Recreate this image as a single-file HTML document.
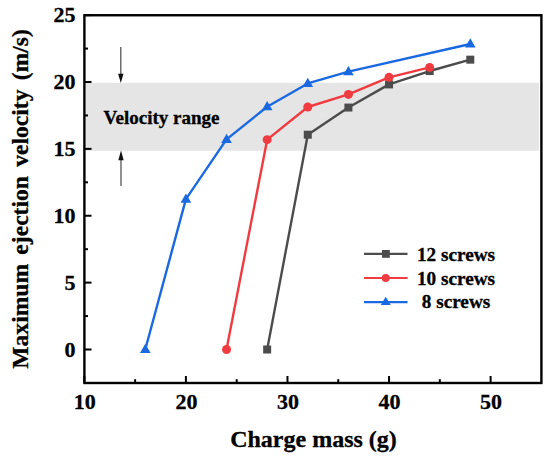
<!DOCTYPE html>
<html><head><meta charset="utf-8"><style>
html,body{margin:0;padding:0;background:#fff;}
svg{display:block;}
text{font-family:"Liberation Serif",serif;font-weight:bold;fill:#000;stroke:#000;stroke-width:0.3px;}
</style></head><body>
<svg width="550" height="459" viewBox="0 0 550 459">
<rect x="86" y="82.8" width="453" height="68" fill="#e5e5e5"/>
<line x1="120.8" y1="47" x2="120.8" y2="75" stroke="#555" stroke-width="1.3"/>
<polygon points="118.1,73.8 123.5,73.8 120.8,83" fill="#111"/>
<line x1="121" y1="159" x2="121" y2="186" stroke="#555" stroke-width="1.3"/>
<polygon points="118.3,160.2 123.7,160.2 121,150.6" fill="#111"/>
<text x="103.5" y="123.5" font-size="19" textLength="116" lengthAdjust="spacingAndGlyphs">Velocity range</text>
<line x1="84.33" y1="383" x2="84.33" y2="376" stroke="#000" stroke-width="2"/>
<text transform="translate(84.83,409) scale(1,1.0)" font-size="22" text-anchor="middle">10</text>
<line x1="185.90" y1="383" x2="185.90" y2="376" stroke="#000" stroke-width="2"/>
<text transform="translate(186.40,409) scale(1,1.0)" font-size="22" text-anchor="middle">20</text>
<line x1="287.47" y1="383" x2="287.47" y2="376" stroke="#000" stroke-width="2"/>
<text transform="translate(287.97,409) scale(1,1.0)" font-size="22" text-anchor="middle">30</text>
<line x1="389.04" y1="383" x2="389.04" y2="376" stroke="#000" stroke-width="2"/>
<text transform="translate(389.54,409) scale(1,1.0)" font-size="22" text-anchor="middle">40</text>
<line x1="490.61" y1="383" x2="490.61" y2="376" stroke="#000" stroke-width="2"/>
<text transform="translate(491.11,409) scale(1,1.0)" font-size="22" text-anchor="middle">50</text>
<line x1="135.12" y1="383" x2="135.12" y2="379.2" stroke="#000" stroke-width="2"/>
<line x1="236.69" y1="383" x2="236.69" y2="379.2" stroke="#000" stroke-width="2"/>
<line x1="338.25" y1="383" x2="338.25" y2="379.2" stroke="#000" stroke-width="2"/>
<line x1="439.82" y1="383" x2="439.82" y2="379.2" stroke="#000" stroke-width="2"/>
<line x1="84.5" y1="349.50" x2="91.5" y2="349.50" stroke="#000" stroke-width="2"/>
<text transform="translate(75.6,356.60) scale(1,1.0)" font-size="22" text-anchor="end">0</text>
<line x1="84.5" y1="282.62" x2="91.5" y2="282.62" stroke="#000" stroke-width="2"/>
<text transform="translate(75.6,289.73) scale(1,1.0)" font-size="22" text-anchor="end">5</text>
<line x1="84.5" y1="215.75" x2="91.5" y2="215.75" stroke="#000" stroke-width="2"/>
<text transform="translate(75.6,222.85) scale(1,1.0)" font-size="22" text-anchor="end">10</text>
<line x1="84.5" y1="148.88" x2="91.5" y2="148.88" stroke="#000" stroke-width="2"/>
<text transform="translate(75.6,155.97) scale(1,1.0)" font-size="22" text-anchor="end">15</text>
<line x1="84.5" y1="82.00" x2="91.5" y2="82.00" stroke="#000" stroke-width="2"/>
<text transform="translate(75.6,89.10) scale(1,1.0)" font-size="22" text-anchor="end">20</text>
<line x1="84.5" y1="15.12" x2="91.5" y2="15.12" stroke="#000" stroke-width="2"/>
<text transform="translate(75.6,22.23) scale(1,1.0)" font-size="22" text-anchor="end">25</text>
<line x1="84.5" y1="316.06" x2="88" y2="316.06" stroke="#000" stroke-width="2"/>
<line x1="84.5" y1="249.19" x2="88" y2="249.19" stroke="#000" stroke-width="2"/>
<line x1="84.5" y1="182.31" x2="88" y2="182.31" stroke="#000" stroke-width="2"/>
<line x1="84.5" y1="115.44" x2="88" y2="115.44" stroke="#000" stroke-width="2"/>
<line x1="84.5" y1="48.56" x2="88" y2="48.56" stroke="#000" stroke-width="2"/>
<rect x="84.4" y="15.25" width="457" height="367.75" fill="none" stroke="#000" stroke-width="2.4"/>
<polyline points="267.16,349.50 307.78,134.70 348.41,107.55 389.04,84.41 429.67,71.03 470.30,59.66" fill="none" stroke="#4c4c4c" stroke-width="2.4" stroke-linejoin="round"/>
<rect x="263.16" y="345.50" width="8" height="8" fill="#4c4c4c"/>
<rect x="303.78" y="130.70" width="8" height="8" fill="#4c4c4c"/>
<rect x="344.41" y="103.55" width="8" height="8" fill="#4c4c4c"/>
<rect x="385.04" y="80.41" width="8" height="8" fill="#4c4c4c"/>
<rect x="425.67" y="67.03" width="8" height="8" fill="#4c4c4c"/>
<rect x="466.30" y="55.66" width="8" height="8" fill="#4c4c4c"/>
<polyline points="226.53,349.50 267.16,139.65 307.78,107.01 348.41,94.44 389.04,77.32 429.67,67.42" fill="none" stroke="#f03b40" stroke-width="2.4" stroke-linejoin="round"/>
<circle cx="226.53" cy="349.50" r="4.5" fill="#f03b40"/>
<circle cx="267.16" cy="139.65" r="4.5" fill="#f03b40"/>
<circle cx="307.78" cy="107.01" r="4.5" fill="#f03b40"/>
<circle cx="348.41" cy="94.44" r="4.5" fill="#f03b40"/>
<circle cx="389.04" cy="77.32" r="4.5" fill="#f03b40"/>
<circle cx="429.67" cy="67.42" r="4.5" fill="#f03b40"/>
<polyline points="145.27,349.50 185.90,199.16 226.53,139.38 267.16,106.74 307.78,83.47 348.41,71.70 470.30,44.01" fill="none" stroke="#1a69e1" stroke-width="2.4" stroke-linejoin="round"/>
<polygon points="139.97,353.00 150.57,353.00 145.27,343.80" fill="#1a69e1"/>
<polygon points="180.60,202.66 191.20,202.66 185.90,193.47" fill="#1a69e1"/>
<polygon points="221.23,142.88 231.83,142.88 226.53,133.68" fill="#1a69e1"/>
<polygon points="261.86,110.24 272.46,110.24 267.16,101.04" fill="#1a69e1"/>
<polygon points="302.48,86.97 313.08,86.97 307.78,77.77" fill="#1a69e1"/>
<polygon points="343.11,75.20 353.71,75.20 348.41,66.00" fill="#1a69e1"/>
<polygon points="465.00,47.51 475.60,47.51 470.30,38.31" fill="#1a69e1"/>
<line x1="364" y1="253.90" x2="407.5" y2="253.90" stroke="#4c4c4c" stroke-width="2.2"/>
<rect x="382" y="250.00" width="7.8" height="7.8" fill="#4c4c4c"/>
<text transform="translate(456,261.00) scale(1.04,1.05)" font-size="18.5" text-anchor="middle">12 screws</text>
<line x1="364" y1="278.00" x2="407.5" y2="278.00" stroke="#f03b40" stroke-width="2.2"/>
<circle cx="385.7" cy="278.00" r="4" fill="#f03b40"/>
<text transform="translate(456,284.60) scale(1.04,1.05)" font-size="18.5" text-anchor="middle">10 screws</text>
<line x1="364" y1="302.10" x2="407.5" y2="302.10" stroke="#1a69e1" stroke-width="2.2"/>
<polygon points="380.70,305.10 390.70,305.10 385.7,296.70" fill="#1a69e1"/>
<text transform="translate(456,308.40) scale(1.04,1.05)" font-size="18.5" text-anchor="middle">8 screws</text>
<text x="313.5" y="447" font-size="24" text-anchor="middle">Charge mass (g)</text>
<text transform="translate(28.2,199) rotate(-90)" font-size="23.6" word-spacing="3.3" text-anchor="middle">Maximum ejection velocity (m/s)</text>
</svg>
</body></html>
